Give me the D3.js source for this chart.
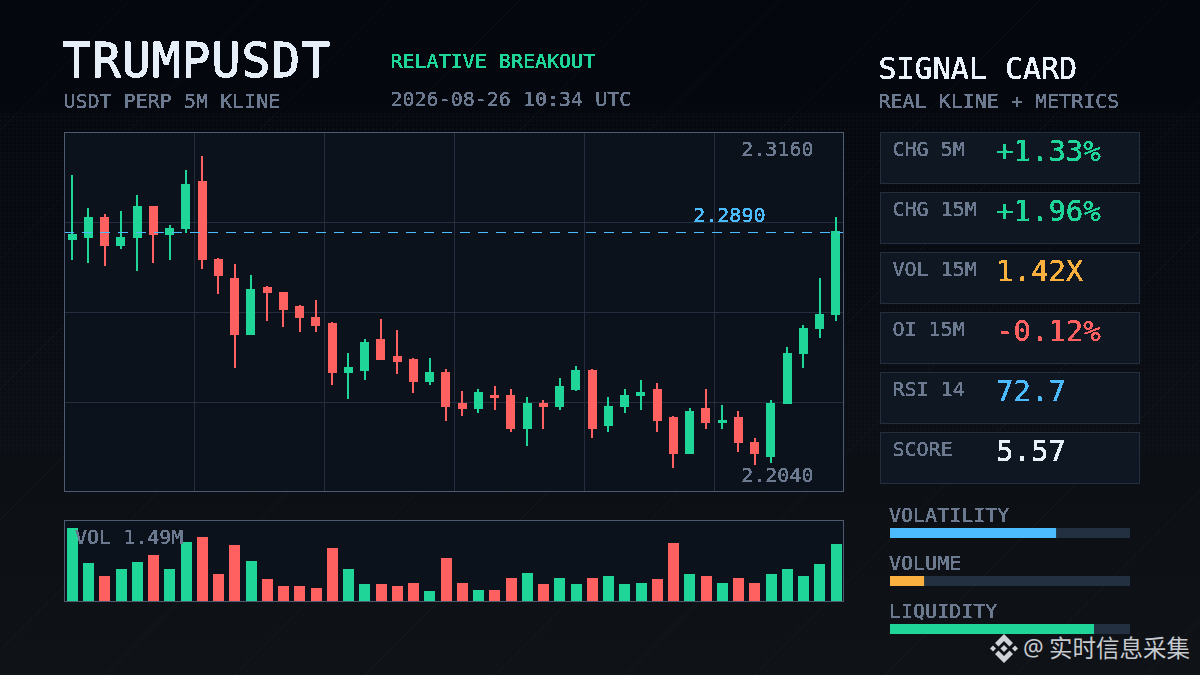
<!DOCTYPE html>
<html><head><meta charset="utf-8">
<script src="https://cdn.jsdelivr.net/npm/d3@7/dist/d3.min.js"></script>
<style>html,body{margin:0;padding:0;background:#05080e;overflow:hidden}svg{display:block}
text{font-family:"DejaVu Sans Mono",monospace;}</style></head><body>
<svg id="c" width="1200" height="675"></svg>
<script>
const symbol="TRUMPUSDT";
const opens =[2.2858,2.2866,2.2941,2.2837,2.2866,2.2981,2.2876,2.2898,2.3070,2.2790,2.2722,2.2517,2.2690,2.2672,2.2622,2.2582,2.2561,2.2381,2.2388,2.2503,2.2442,2.2431,2.2349,2.2385,2.2273,2.2252,2.2302,2.2302,2.2180,2.2273,2.2259,2.2320,2.2392,2.2191,2.2259,2.2299,2.2324,2.2223,2.2090,2.2255,2.2202,2.2223,2.2133,2.2080,2.2270,2.2449,2.2539,2.2589];
const closes=[2.2880,2.2941,2.2837,2.2869,2.2981,2.2876,2.2902,2.3060,2.2787,2.2729,2.2517,2.2683,2.2668,2.2607,2.2578,2.2550,2.2381,2.2403,2.2492,2.2428,2.2421,2.2349,2.2385,2.2259,2.2252,2.2313,2.2291,2.2180,2.2273,2.2259,2.2334,2.2392,2.2180,2.2263,2.2302,2.2313,2.2209,2.2090,2.2245,2.2202,2.2212,2.2130,2.2090,2.2273,2.2453,2.2543,2.2593,2.2890];
const highs =[2.3092,2.2973,2.2952,2.2963,2.3020,2.2981,2.2912,2.3110,2.3160,2.2794,2.2772,2.2733,2.2693,2.2672,2.2625,2.2643,2.2564,2.2453,2.2503,2.2575,2.2535,2.2435,2.2435,2.2395,2.2316,2.2324,2.2334,2.2324,2.2295,2.2284,2.2363,2.2406,2.2395,2.2295,2.2324,2.2356,2.2345,2.2227,2.2255,2.2324,2.2266,2.2245,2.2148,2.2284,2.2474,2.2553,2.2722,2.2941];
const lows  =[2.2787,2.2776,2.2765,2.2826,2.2747,2.2776,2.2787,2.2884,2.2754,2.2665,2.2399,2.2517,2.2568,2.2546,2.2528,2.2528,2.2338,2.2288,2.2356,2.2428,2.2377,2.2309,2.2338,2.2209,2.2227,2.2237,2.2248,2.2169,2.2119,2.2180,2.2248,2.2316,2.2148,2.2169,2.2237,2.2248,2.2169,2.2040,2.2090,2.2180,2.2180,2.2097,2.2051,2.2058,2.2270,2.2399,2.2507,2.2568];
const volumes=[1.90,1.00,0.66,0.84,1.02,1.21,0.82,1.54,1.67,0.71,1.46,1.05,0.56,0.40,0.40,0.35,1.39,0.84,0.43,0.43,0.40,0.48,0.25,1.13,0.46,0.28,0.28,0.59,0.74,0.43,0.59,0.43,0.59,0.66,0.43,0.48,0.56,1.52,0.69,0.66,0.48,0.61,0.46,0.69,0.84,0.64,0.97,1.49];
const priceHigh=2.3160, priceLow=2.2040, lastPrice=2.2890, lastVolume="1.49M";
const metricLabels=["CHG 5M","CHG 15M","VOL 15M","OI 15M","RSI 14","SCORE"];
const metricValues=["+1.33%","+1.96%","1.42X","-0.12%","72.7","5.57"];
const metricKinds=["up","up","warn","down","info","plain"];
const gaugeLabels=["VOLATILITY","VOLUME","LIQUIDITY"];
const gaugeValues=[0.692,0.142,0.85];
const gaugeKinds=["info","warn","up"];

const col={up:"#1fd698",down:"#ff6161",info:"#4cbcff",warn:"#fbb13f",plain:"#e8f0f8",mute:"#6c7a90",panel:"#0b121c",grid:"#252e3e",border:"#4d5a70",card:"#0f1822",cardB:"#232e3f",track:"#223042"};
const svg=d3.select("#c");
const defs=svg.append("defs");
const bg=defs.append("linearGradient").attr("id","bg").attr("x1",0).attr("x2",0).attr("y1",0).attr("y2",1);
bg.append("stop").attr("offset",0).attr("stop-color","#05080e");
bg.append("stop").attr("offset",1).attr("stop-color","#0f1217");
const dots=defs.append("pattern").attr("id","dots").attr("width",4).attr("height",4).attr("patternUnits","userSpaceOnUse");
dots.append("rect").attr("width",2).attr("height",2).attr("fill","#4a6a9a").attr("opacity",.05);
const fl=defs.append("filter").attr("id","crisp").attr("x","-5%").attr("y","-20%").attr("width","110%").attr("height","140%").attr("color-interpolation-filters","sRGB");
fl.append("feComponentTransfer").append("feFuncA").attr("type","discrete").attr("tableValues","0 1");
svg.append("rect").attr("width",1200).attr("height",675).attr("fill","url(#bg)");
svg.append("rect").attr("width",1200).attr("height",113).attr("fill","#03060c").attr("opacity",.35);
svg.append("rect").attr("y",113).attr("width",1200).attr("height",224).attr("fill","#04070d").attr("opacity",.15);
svg.append("rect").attr("y",113).attr("width",1200).attr("height",340).attr("fill","url(#dots)");
// faint diagonal texture
const diag=svg.append("g").attr("stroke","#ffffff").attr("stroke-opacity",.03).attr("stroke-width",1);
d3.range(-675,1300,130).forEach(s=>diag.append("line").attr("x1",s).attr("y1",675).attr("x2",s+675).attr("y2",0));

const T=(x,y,t,size,fill,anchor)=>svg.append("text").attr("x",x).attr("y",y).attr("font-size",size).attr("fill",fill).attr("text-anchor",anchor||"start").attr("stroke",fill).attr("stroke-width",.35).attr("filter","url(#crisp)").text(t);
T(62,77,symbol,48,"#e6eef8").attr("letter-spacing",1).attr("stroke-width",1);
T(63.5,107.5,"USDT PERP 5M KLINE",20,col.mute);
T(390.5,68,"RELATIVE BREAKOUT",20,col.up);
T(390.5,106,"2026-08-26 10:34 UTC",20,col.mute);
T(878.5,79,"SIGNAL CARD",30,"#eaf2fb");
T(878.5,108,"REAL KLINE + METRICS",20,col.mute);

// price panel
const px0=64,px1=844,py0=132,py1=492;
svg.append("rect").attr("x",px0+.5).attr("y",py0+.5).attr("width",px1-px0-1).attr("height",py1-py0-1).attr("fill",col.panel);
const band=d3.scaleBand().domain(d3.range(opens.length)).range([px0,px1]);
const y=d3.scaleLinear().domain([priceLow,priceHigh]).range([py1-24,py0+24]);
const g=svg.append("g").attr("shape-rendering","crispEdges");
g.selectAll(".gv").data(d3.range(1,6)).join("line").attr("x1",d=>px0+d*130+.5).attr("x2",d=>px0+d*130+.5).attr("y1",py0).attr("y2",py1).attr("stroke",col.grid);
g.selectAll(".gh").data(d3.range(1,4)).join("line").attr("y1",d=>py0+d*90+.5).attr("y2",d=>py0+d*90+.5).attr("x1",px0).attr("x2",px1).attr("stroke",col.grid);
const cx=i=>band(i)+band.bandwidth()/2;
const colour=i=>closes[i]>=opens[i]?col.up:col.down;
g.selectAll(".wick").data(d3.range(opens.length)).join("rect")
 .attr("x",i=>Math.round(cx(i))-1).attr("width",2)
 .attr("y",i=>y(highs[i])).attr("height",i=>y(lows[i])-y(highs[i])).attr("fill",colour);
g.selectAll(".body").data(d3.range(opens.length)).join("rect")
 .attr("x",i=>Math.round(cx(i)-4.5)).attr("width",9)
 .attr("y",i=>y(Math.max(opens[i],closes[i]))).attr("height",i=>Math.max(2,Math.abs(y(opens[i])-y(closes[i])))).attr("fill",colour);
const ly=Math.round(y(lastPrice))+.5;
svg.append("line").attr("x1",px0).attr("x2",px1).attr("y1",ly+1).attr("y2",ly+1).attr("stroke",col.info).attr("stroke-width",1).attr("stroke-dasharray","10 8").attr("shape-rendering","crispEdges");
svg.append("rect").attr("x",px0+.5).attr("y",py0+.5).attr("width",px1-px0-1).attr("height",py1-py0-1).attr("fill","none").attr("stroke",col.border).attr("shape-rendering","crispEdges");
T(813.5,156,priceHigh.toFixed(4),20,col.mute,"end");
T(813.5,482,priceLow.toFixed(4),20,col.mute,"end");
T(765.5,222,lastPrice.toFixed(4),20,col.info,"end");

// volume panel
const vy0=520,vy1=601;
svg.append("rect").attr("x",px0+.5).attr("y",vy0+.5).attr("width",px1-px0-1).attr("height",vy1-vy0).attr("fill",col.panel);
const vy=d3.scaleLinear().domain([0,d3.max(volumes)]).range([vy1,vy0+8]);
svg.append("g").attr("shape-rendering","crispEdges").selectAll("rect").data(volumes).join("rect")
 .attr("x",(d,i)=>Math.round(cx(i)-5.2)).attr("width",10.5)
 .attr("y",d=>vy(d)).attr("height",d=>vy1-vy(d)).attr("fill",(d,i)=>colour(i));
svg.append("rect").attr("x",px0+.5).attr("y",vy0+.5).attr("width",px1-px0-1).attr("height",vy1-vy0).attr("fill","none").attr("stroke",col.border).attr("shape-rendering","crispEdges");
T(75,544,"VOL "+lastVolume,20,col.mute);

// metric cards
const cards=svg.append("g");
metricLabels.forEach((l,i)=>{
  const yy=132+i*60;
  cards.append("rect").attr("x",880.5).attr("y",yy+.5).attr("width",259).attr("height",51).attr("fill",col.card).attr("stroke",col.cardB).attr("shape-rendering","crispEdges");
  T(892.5,yy+23.5,l,20,col.mute);
  T(996,yy+28.5,metricValues[i],29,col[metricKinds[i]]);
});
// gauges
const gx=d3.scaleLinear().domain([0,1]).range([890,1130]);
gaugeLabels.forEach((l,i)=>{
  const yy=528+i*48;
  T(889,yy-6.5,l,20,col.mute);
  svg.append("rect").attr("x",gx(0)).attr("y",yy).attr("width",gx(1)-gx(0)).attr("height",10).attr("fill",col.track);
  svg.append("rect").attr("x",gx(0)).attr("y",yy).attr("width",gx(gaugeValues[i])-gx(0)).attr("height",10).attr("fill",col[gaugeKinds[i]]);
});
// watermark
const wm=svg.append("g").attr("fill","#cfd2d6").attr("transform","translate(1004,648.5)");
const dia=(x,y,r)=>wm.append("path").attr("d",`M${x} ${y-r}L${x+r} ${y}L${x} ${y+r}L${x-r} ${y}Z`);
dia(0,0,3.6);dia(-11,0,3);dia(11,0,3);
wm.append("path").attr("d","M0 -14.5L9 -5.5L5.5 -2L0 -7.5L-5.5 -2L-9 -5.5Z");
wm.append("path").attr("d","M0 14.5L9 5.5L5.5 2L0 7.5L-5.5 2L-9 5.5Z");
svg.append("text").attr("x",1023).attr("y",656).attr("font-size",23).attr("fill","#c6c9ce").style("font-family","'Noto Sans'").text("@");
svg.append("text").attr("x",1049).attr("y",657).attr("font-size",23.5).attr("fill","#c6c9ce").style("font-family","'Noto Sans CJK SC'").text("实时信息采集");
</script></body></html>
